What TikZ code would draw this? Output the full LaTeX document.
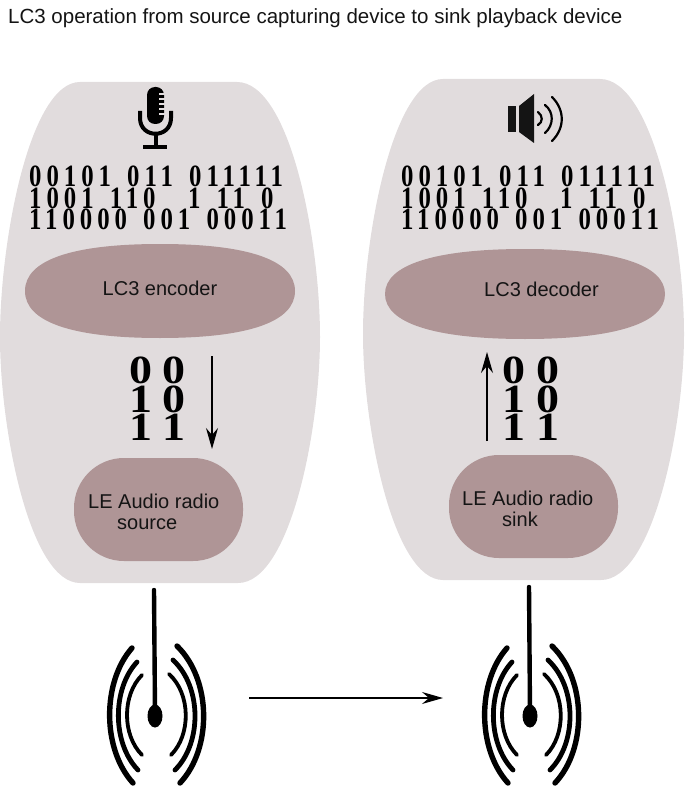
\documentclass[tikz,border=0pt]{standalone}
\usepackage{fontspec}
\setmainfont{Liberation Sans}
\newfontfamily\binfont[LetterSpace=16,FakeStretch=0.8]{Liberation Serif}
\newfontfamily\bigbin[FakeStretch=1.15]{Liberation Serif}
\newcommand{\gp}{\hspace{16.2pt}}
\definecolor{bodyc}{HTML}{E1DCDD}
\definecolor{innerc}{HTML}{AF9596}
\definecolor{inkc}{HTML}{141414}
\usetikzlibrary{arrows.meta}
\tikzset{
  bodyshape/.style={fill=bodyc,draw=none},
  innershape/.style={fill=innerc,draw=none},
  lab/.style={inner sep=0pt,text=inkc,font=\fontsize{20}{21}\selectfont},
  smallbits/.style={inner sep=0pt,anchor=west,align=left,text=black,font=\binfont\bfseries\fontsize{31}{21.5}\selectfont},
  bigbits/.style={inner sep=0pt,align=center,text=black,font=\bigbin\bfseries\fontsize{40}{28.5}\selectfont},
  flow/.style={draw=black,line width=1.3pt,-{Stealth[length=21pt,width=12pt,inset=7pt]}},
  wave/.style={draw=black,line cap=round,fill=none},
  pics/antenna/.style={code={
    \draw[wave,line width=5.4pt] (132,648) .. controls (102,682) and (102,749) .. (133,783);
    \draw[wave,line width=4.8pt] (137,662) .. controls (112,689) and (112,743) .. (138,770);
    \draw[wave,line width=3.8pt] (142,675) .. controls (122,695) and (122,735) .. (142,755);
    \draw[wave,line width=5.4pt] (177,646) .. controls (212,680) and (212,749) .. (180,783);
    \draw[wave,line width=4.8pt] (173,660) .. controls (202,687) and (202,743) .. (175,770);
    \draw[wave,line width=3.8pt] (169,674) .. controls (191,694) and (191,735) .. (171,755);
    \fill[black] (155,716) ellipse [x radius=7.5,y radius=11.5];
  }}
}
\begin{document}
\begin{tikzpicture}[x=1pt,y=-1pt]
\useasboundingbox (0,0) rectangle (685,786);
\node[inner sep=0pt,anchor=west,text=inkc,font=\fontsize{20.5}{22}\selectfont] (title) at (8,18) {LC3 operation from source capturing device to sink playback device};

% device bodies
\path[bodyshape] (80,82) -- (237,82) .. controls (290,82) and (320,240) .. (320,337)
  .. controls (320,430) and (290,583) .. (238,583) -- (80,583)
  .. controls (30,583) and (0,430) .. (0,337) .. controls (0,240) and (30,82) .. (80,82) -- cycle;
\path[bodyshape] (443,79) -- (600,79) .. controls (653,79) and (684,237) .. (684,334)
  .. controls (684,427) and (653,580) .. (601,580) -- (443,580)
  .. controls (393,580) and (363,427) .. (363,334) .. controls (363,237) and (393,79) .. (443,79) -- cycle;

% microphone
\fill[black,rounded corners=8pt] (147,87) rectangle (164,124);
\foreach \yy in {93,98,103,108,113} \fill[bodyc] (159,\yy) rectangle (165,\yy+1.6);
\draw[black,line width=4pt] (140,111) -- (140,118) .. controls (140,139) and (171,139) .. (171,118) -- (171,111);
\fill[black] (153.5,133) rectangle (157.5,146);
\fill[black] (143,145) rectangle (167,149);

% speaker
\fill[inkc] (508,106) rectangle (516,132);
\fill[inkc] (519,106) -- (534,94) -- (534,143) -- (519,132) -- cycle;
\draw[wave,line width=2.2pt] (538,112) .. controls (543,116) and (543,122) .. (538,125);
\draw[wave,line width=2.2pt] (545,105) .. controls (554,112) and (554,125) .. (545,133);
\draw[wave,line width=2.2pt] (552,97) .. controls (565,110) and (565,128) .. (552,141);

% bit rows
\node[smallbits] (lbits) at (29,198) {00101\gp 011\gp 011111\\1001\gp 110\gp\gp 1\gp 11\gp 0\\110000\gp 001\gp 00011};
\node[smallbits] (rbits) at (401,198) {00101\gp 011\gp 011111\\1001\gp 110\gp\gp 1\gp 11\gp 0\\110000\gp 001\gp 00011};

% codec blobs
\path[innershape] (25,291) .. controls (25,260) and (72,244) .. (160,244) .. controls (248,244) and (295,260) .. (295,291)
  .. controls (295,322) and (248,338) .. (160,338) .. controls (72,338) and (25,322) .. (25,291) -- cycle;
\path[innershape] (385,294) .. controls (385,265) and (434,249) .. (525,249) .. controls (616,249) and (665,265) .. (665,294)
  .. controls (665,323) and (616,339) .. (525,339) .. controls (434,339) and (385,323) .. (385,294) -- cycle;
\node[lab] (enc) at (160,288) {LC3 encoder};
\node[lab] (dec) at (541.5,289) {LC3 decoder};

% large bits
\node[bigbits] (lbig) at (157.5,399) {0\hspace{11pt}0\\1\hspace{11pt}0\\1\hspace{11pt}1};
\node[bigbits] (rbig) at (530.5,399) {0\hspace{11pt}0\\1\hspace{11pt}0\\1\hspace{11pt}1};

% radios
\path[innershape,rounded corners=50pt] (74,458) rectangle (243,561);
\path[innershape,rounded corners=50pt] (449,455) rectangle (618,558);
\node[lab,align=left,anchor=west] (src) at (88,511.5) {LE Audio radio\\\hspace*{29pt}source};
\node[lab,align=left,anchor=west] (snk) at (462,508.5) {LE Audio radio\\\hspace*{40pt}sink};

% flow arrows
\coordinate (dt) at (212,356); \coordinate (db) at (212,449);
\coordinate (ub) at (487,441); \coordinate (ut) at (487,352);
\coordinate (ta) at (249,698); \coordinate (tb) at (443,698);
\draw[flow] (dt) -- (db);
\draw[flow] (ub) -- (ut);
\draw[flow] (ta) -- (tb);

% antennas
\coordinate (ant1t) at (154,590); \coordinate (ant1b) at (155,712);
\coordinate (ant2t) at (529,587); \coordinate (ant2b) at (530,712);
\draw[black,line width=4.4pt,line cap=round] (ant1t) -- (ant1b);
\draw[black,line width=4.4pt,line cap=round] (ant2t) -- (ant2b);
\pic at (0,0) {antenna};
\pic at (375,0) {antenna};
\end{tikzpicture}
\end{document}
